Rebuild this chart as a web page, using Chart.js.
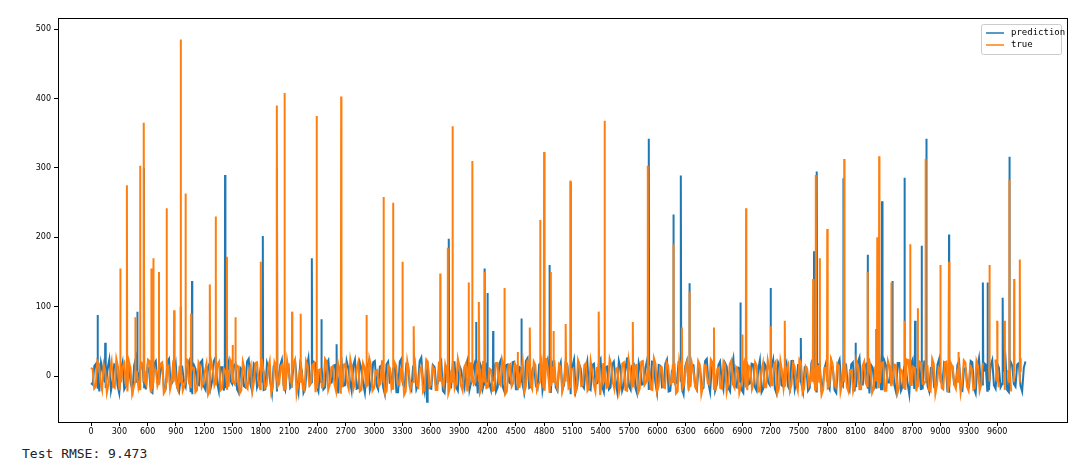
<!DOCTYPE html>
<html><head><meta charset="utf-8">
<script src="https://cdn.jsdelivr.net/npm/chart.js@4"></script>
<style>body{margin:0;background:#fff}#w{width:1082px;height:440px}#t{font:13px "DejaVu Sans Mono",monospace;margin:6px 0 0 22px;color:#222}</style>
</head><body><div id="w"><canvas id="c"></canvas></div><div id="t">Test RMSE: 9.473</div>
<script>
const xTicks=[0,300,600,900,1200,1500,1800,2100,2400,2700,3000,3300,3600,3900,4200,4500,4800,5100,5400,5700,6000,6300,6600,6900,7200,7500,7800,8100,8400,8700,9000,9300,9600];
const yTicks=[0,100,200,300,400,500];
const trueSpikes=[[310,155],[380,275],[470,85],[520,303],[560,365],[640,155],[660,170],[720,150],[800,242],[880,95],[950,485],[1000,263],[1060,90],[1260,132],[1320,230],[1440,172],[1500,45],[1530,85],[1800,165],[1970,390],[2050,408],[2130,93],[2220,90],[2390,375],[2650,403],[2920,88],[3100,258],[3200,250],[3300,165],[3420,72],[3700,148],[3780,185],[3830,360],[4000,135],[4040,310],[4110,107],[4170,150],[4380,127],[4520,35],[4650,70],[4760,225],[4800,323],[4870,150],[4900,65],[5030,75],[5080,282],[5380,93],[5440,368],[5740,78],[5900,303],[6170,190],[6260,70],[6340,122],[6600,70],[6900,60],[6940,242],[7200,72],[7350,80],[7650,140],[7680,290],[7720,170],[7800,212],[7980,313],[8230,150],[8330,200],[8350,317],[8480,135],[8620,80],[8680,190],[8760,98],[8840,313],[9000,160],[9090,165],[9190,35],[9520,160],[9600,80],[9680,80],[9730,283],[9780,140],[9840,168]];
const predSpikes=[[70,88],[150,48],[490,93],[560,300],[950,100],[1070,137],[1420,290],[1440,62],[1820,202],[1970,300],[2340,170],[2440,82],[2600,46],[3560,-37],[3790,198],[4080,78],[4170,155],[4200,120],[4260,65],[4560,83],[4860,160],[5080,280],[5910,342],[6170,233],[6250,289],[6340,134],[6880,106],[7200,127],[7520,55],[7660,180],[7690,295],[7970,285],[8100,48],[8230,175],[8320,68],[8380,252],[8490,137],[8620,286],[8730,80],[8800,188],[8850,342],[9090,204],[9450,135],[9500,135],[9660,113],[9730,316]];
const trueBand=[12,-18,22,-9,17,-24,8,-15,25,-20,14,-11,21,-26,6,-17,19,-8,24,-22,10,-14,18,-25,9,-19,23,-12,15,-21,26,-10,13,-23,20,-16,7,-27,22,-13,17,-20,11,-18,24,-9,16,-25,21,-14,8,-22,19,-11,25,-17,12,-24,20,-15,14,-21,23,-8,18,-26,10,-19,22,-13,16,-23,9,-16,25,-20,13,-12,21,-24,17,-10,24,-18,11,-22,19,-15,26,-21,8,-14,23,-25,15,-17,20,-11,12,-27,22,-19,18,-13,10,-23,24,-16,14,-20,21,-9,17,-25,9,-18,25,-14,13,-22,20,-12,16,-24,22,-17,11,-21,19,-10,23,-26,15,-15,18,-19,7,-23,24,-13,21,-20,12,-16,26,-24,14,-11,17,-22,20,-18,10,-25,23,-14,16,-21,22,-12,13,-27,19,-17,25,-9,11,-23,18,-20,24,-15,15,-24,21,-13,9,-19,26,-22,14,-16,20,-11,17,-25,23,-18,12,-21,19,-14,22,-26,16,-10,24,-20,10,-17,21,-23,18,-12,13,-24,25,-15,15,-19,20,-22,8,-16,23,-13,17,-25,22,-18,11,-21,19,-11,24,-24,14,-14,21,-20,16,-27,12,-17,25,-12,18,-23,20,-15,9,-22,23,-19,15,-10,26,-24,13,-16,19,-21,22,-13,17,-25,10,-18,24,-14,14,-22,21,-11,16,-20,25,-26,12,-17,20,-23,18,-12,11,-24,23,-15,15,-19,22,-21,19,-14,13,-25,24,-16,17,-20,9,-22,21,-13,26,-18];
const predBand=[-10,15,-18,20,-7,12,-21,17,-14,9,-19,22,-11,16,-6,19,-16,13,-22,18,-9,11,-20,21,-13,8,-17,19,-8,14,-23,16,-12,20,-15,10,-18,22,-10,13,-21,17,-7,15,-19,12,-14,21,-11,18,-16,9,-20,19,-9,14,-22,16,-13,11,-17,20,-8,17,-24,13,-12,21,-15,10,-19,18,-10,15,-21,12,-14,22,-7,16,-18,19,-11,9,-20,20,-13,14,-16,17,-9,11,-23,21,-12,18,-15,13,-19,22,-8,10,-17,16,-14,19,-21,12,-10,20,-16,15,-7,17,-20,11,-13,21,-18,14,-11,9,-22,18,-15,16,-9,20,-19,13,-12,22,-17,10,-14,17,-21,15,-8,19,-16,12,-20,21,-10,14,-23,18,-13,11,-18,16,-11,20,-15,13,-19,17,-7,22,-21,10,-14,15,-17,19,-12,12,-20,21,-9,16,-16,18,-22,9,-11,20,-18,14,-13,17,-15,11,-19,22,-10,13,-21,16,-8,19,-17,15,-14,12,-20,21,-12,18,-16,10,-23,17,-9,14,-18,20,-13,11,-15,22,-19,16,-11,13,-21,19,-8,15,-17,12,-14,21,-20,18,-10,9,-16,17,-22,20,-12,14,-18,16,-15,11,-19,22,-9,13,-13,19,-21,15,-11,18,-17,10,-20,21,-14,12,-16,17,-8,20,-23,14,-12,16,-19,11,-15,22,-18,13,-10,19,-21,15,-13,18,-16,9,-20,21,-11,17,-14,12];
const N=9900;
function build(a,b,spikes){
  const band=[];a.forEach((v,i)=>{band.push(v,-b[i]);});
  const step=N/(band.length-1), pts=band.map((v,i)=>({x:i*step,y:v}));
  spikes.forEach(([x,y])=>{pts.push({x:x-3,y:-8},{x:x,y:y},{x:x+3,y:8});});
  return pts.sort((p,q)=>p.x-q.x);
}
const frame={id:'frame',afterDraw(c){const a=c.chartArea,g=c.ctx;g.save();g.strokeStyle='#000';g.lineWidth=1;g.strokeRect(a.left+.5,a.top+.5,a.right-a.left,a.bottom-a.top);
 const x=a.right-86,y=a.top+6;g.fillStyle='#fff';g.strokeStyle='#ccc';g.beginPath();g.roundRect(x+.5,y+.5,80,30,2);g.fill();g.stroke();
 g.font='9px "DejaVu Sans Mono",monospace';g.textBaseline='middle';g.fillStyle='#000';
 [['prediction','#1f77b4',9],['true','#ff7f0e',21]].forEach(([t,col,o])=>{g.strokeStyle=col;g.lineWidth=1.5;g.beginPath();g.moveTo(x+5,y+o);g.lineTo(x+23,y+o);g.stroke();g.fillText(t,x+30,y+o);});g.restore();}};
new Chart(document.getElementById('c'),{type:'line',
 data:{datasets:[
  {label:'prediction',data:build(predBand,trueBand,predSpikes),borderColor:'#1f77b4',borderWidth:2,pointRadius:0,order:1},
  {label:'true',data:build(trueBand,predBand,trueSpikes),borderColor:'#ff7f0e',borderWidth:2,pointRadius:0,order:0}]},
 options:{animation:false,responsive:true,maintainAspectRatio:false,
  layout:{padding:{top:18,right:15,left:0,bottom:0}},
  plugins:{legend:{display:false},tooltip:{enabled:false}},
  scales:{
   x:{type:'linear',min:-350,max:10340,grid:{display:true,drawOnChartArea:false,tickLength:4,color:'#000'},border:{display:false},
     afterBuildTicks:s=>{s.ticks=xTicks.map(v=>({value:v}));},afterFit:s=>{s.height=18;},
     ticks:{autoSkip:false,maxRotation:0,color:'#000',font:{size:8,family:'DejaVu Sans'},padding:1,callback:v=>String(v)}},
   y:{min:-66,max:516,grid:{display:true,drawOnChartArea:false,tickLength:4,color:'#000'},border:{display:false},
     afterBuildTicks:s=>{s.ticks=yTicks.map(v=>({value:v}));},afterFit:s=>{s.width=58;},
     ticks:{color:'#000',font:{size:8,family:'DejaVu Sans'},padding:3,callback:v=>String(v)}}}},
 plugins:[frame]});
</script></body></html>
